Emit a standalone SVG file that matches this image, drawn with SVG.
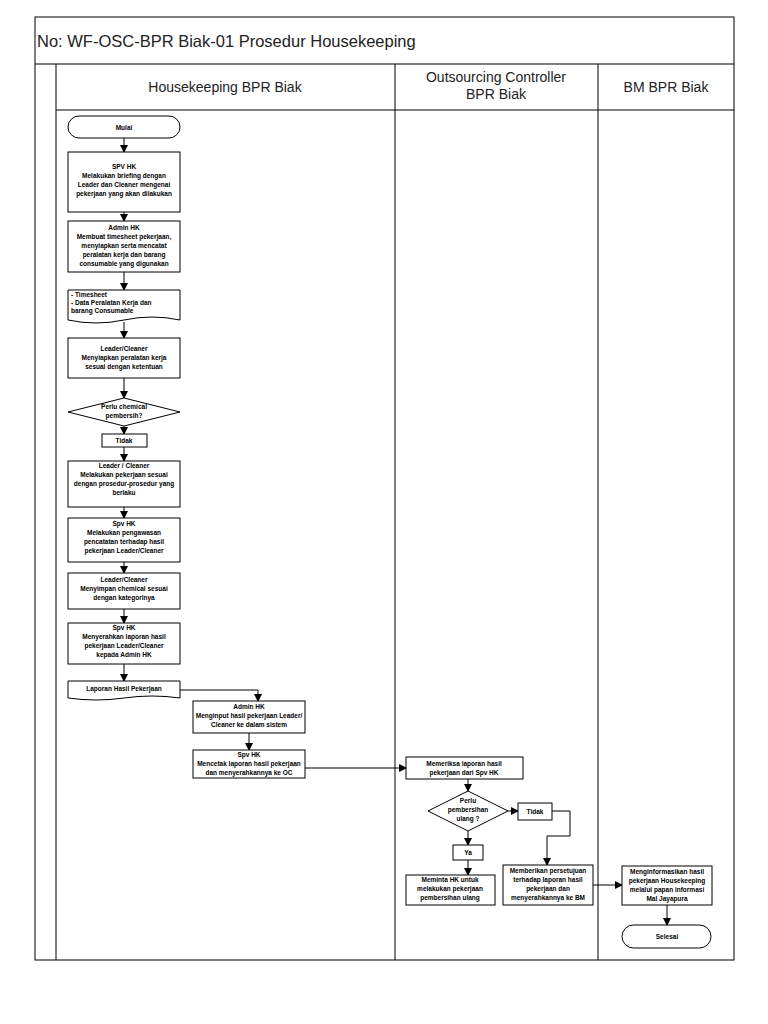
<svg xmlns="http://www.w3.org/2000/svg" width="768" height="1024" viewBox="0 0 768 1024">
<style>
.ln{fill:none;stroke:#000;stroke-width:1}
.bx{fill:#fff;stroke:#000;stroke-width:1}
.t{font-family:"Liberation Sans",Arial,sans-serif;font-size:6.5px;font-weight:bold;text-anchor:middle;fill:#000}
.s{text-anchor:start}
.h{font-family:"Liberation Sans",Arial,sans-serif;font-size:14px;text-anchor:middle;fill:#222}
.c{fill:none;stroke:#000;stroke-width:1;marker-end:url(#a)}
</style>
<defs><marker id="a" markerWidth="8" markerHeight="8" refX="7" refY="4" orient="auto" markerUnits="userSpaceOnUse"><path d="M0,0 L8,4 L0,8 z" fill="#000"/></marker></defs>
<rect width="768" height="1024" fill="#fff"/>
<g id="frame">
<rect x="35" y="17" width="699" height="943" class="ln"/>
<line x1="35" y1="64" x2="734" y2="64" class="ln" stroke-width="1.5"/>
<line x1="56" y1="110" x2="734" y2="110" class="ln"/>
<line x1="56" y1="64" x2="56" y2="960" class="ln"/>
<line x1="395" y1="64" x2="395" y2="960" class="ln"/>
<line x1="598" y1="64" x2="598" y2="960" class="ln"/>
<text x="37" y="47" font-family="Liberation Sans,Arial,sans-serif" font-size="16.5" fill="#222">No: WF-OSC-BPR Biak-01 Prosedur Housekeeping</text>
<text x="225" y="92" class="h">Housekeeping BPR Biak</text>
<text x="496" y="82" class="h">Outsourcing Controller</text>
<text x="496" y="99" class="h">BPR Biak</text>
<text x="666" y="92" class="h">BM BPR Biak</text>
</g>
<g id="connectors">
<line x1="124" y1="138" x2="124" y2="152" class="c"/>
<line x1="124" y1="212" x2="124" y2="221" class="c"/>
<line x1="124" y1="272" x2="124" y2="290" class="c"/>
<line x1="124" y1="322" x2="124" y2="338" class="c"/>
<line x1="124" y1="378" x2="124" y2="398" class="c"/>
<line x1="124" y1="426" x2="124" y2="434" class="c"/>
<line x1="124" y1="447" x2="124" y2="461" class="c"/>
<line x1="124" y1="507" x2="124" y2="518" class="c"/>
<line x1="124" y1="562" x2="124" y2="573" class="c"/>
<line x1="124" y1="609" x2="124" y2="623" class="c"/>
<line x1="124" y1="664" x2="124" y2="681" class="c"/>
<polyline points="180,690 258,690 258,701" class="c"/>
<line x1="249" y1="733" x2="249" y2="750" class="c"/>
<line x1="305" y1="768" x2="406" y2="768" class="c"/>
<line x1="468" y1="779" x2="468" y2="791" class="c"/>
<line x1="508" y1="811" x2="518" y2="811" class="c"/>
<polyline points="552,811 570,811 570,836 547,836 547,865" class="c"/>
<line x1="468" y1="831" x2="468" y2="845" class="c"/>
<line x1="468" y1="860" x2="468" y2="875" class="c"/>
<line x1="593" y1="885" x2="622" y2="885" class="c"/>
<line x1="667" y1="905" x2="667" y2="925" class="c"/>
</g>
<g id="mulai"><rect x="68" y="116" width="112" height="22" rx="11" class="bx"/><text x="124" y="130" class="t">Mulai</text></g>
<g id="n1"><rect x="68" y="152" width="112" height="60" class="bx"/>
<text class="t" x="124" y="169">SPV HK</text><text class="t" x="124" y="178">Melakukan briefing dengan</text><text class="t" x="124" y="187">Leader dan Cleaner mengenai</text><text class="t" x="124" y="196">pekerjaan yang akan dilakukan</text></g>
<g id="n2"><rect x="68" y="221" width="112" height="51" class="bx"/>
<text class="t" x="124" y="230">Admin HK</text><text class="t" x="124" y="239">Membuat timesheet pekerjaan,</text><text class="t" x="124" y="248">menyiapkan serta mencatat</text><text class="t" x="124" y="257">peralatan kerja dan barang</text><text class="t" x="124" y="266">consumable yang digunakan</text></g>
<g id="doc1"><path d="M68,290 H180 V320 Q152,314 124,320 T68,320 Z" class="bx"/>
<text class="t s" x="71" y="297">- Timesheet</text><text class="t s" x="71" y="305">- Data Peralatan Kerja dan</text><text class="t s" x="71" y="313">barang Consumable</text></g>
<g id="n3"><rect x="68" y="338" width="112" height="40" class="bx"/>
<text class="t" x="124" y="351">Leader/Cleaner</text><text class="t" x="124" y="360">Menyiapkan peralatan kerja</text><text class="t" x="124" y="369">sesuai dengan ketentuan</text></g>
<g id="d1"><polygon points="68,412 124,398 180,412 124,426" class="bx"/>
<text class="t" x="124" y="409">Perlu chemical</text><text class="t" x="124" y="418">pembersih?</text></g>
<g id="tidak1"><rect x="102" y="434" width="45" height="13" class="bx"/><text class="t" x="124" y="443">Tidak</text></g>
<g id="n4"><rect x="68" y="461" width="112" height="46" class="bx"/>
<text class="t" x="124" y="468">Leader / Cleaner</text><text class="t" x="124" y="477">Melakukan pekerjaan sesuai</text><text class="t" x="124" y="486">dengan prosedur-prosedur yang</text><text class="t" x="124" y="495">berlaku</text></g>
<g id="n5"><rect x="68" y="518" width="112" height="44" class="bx"/>
<text class="t" x="124" y="526">Spv HK</text><text class="t" x="124" y="535">Melakukan pengawasan</text><text class="t" x="124" y="544">pencatatan terhadap hasil</text><text class="t" x="124" y="553">pekerjaan Leader/Cleaner</text></g>
<g id="n6"><rect x="68" y="573" width="112" height="36" class="bx"/>
<text class="t" x="124" y="582">Leader/Cleaner</text><text class="t" x="124" y="591">Menyimpan chemical sesuai</text><text class="t" x="124" y="600">dengan kategorinya</text></g>
<g id="n7"><rect x="68" y="623" width="112" height="41" class="bx"/>
<text class="t" x="124" y="630">Spv HK</text><text class="t" x="124" y="639">Menyerahkan laporan hasil</text><text class="t" x="124" y="648">pekerjaan Leader/Cleaner</text><text class="t" x="124" y="657">kepada Admin HK</text></g>
<g id="doc2"><path d="M68,681 H180 V698 Q152,694 124,698 T68,698 Z" class="bx"/>
<text class="t" x="124" y="691">Laporan Hasil Pekerjaan</text></g>
<g id="n8"><rect x="193" y="701" width="112" height="32" class="bx"/>
<text class="t" x="249" y="709">Admin HK</text><text class="t" x="249" y="718">Menginput hasil pekerjaan Leader/</text><text class="t" x="249" y="727">Cleaner ke dalam sistem</text></g>
<g id="n9"><rect x="193" y="750" width="112" height="28" class="bx"/>
<text class="t" x="249" y="757">Spv HK</text><text class="t" x="249" y="766">Mencetak laporan hasil pekerjaan</text><text class="t" x="249" y="775">dan menyerahkannya ke OC</text></g>
<g id="oc1"><rect x="406" y="757" width="117" height="22" class="bx"/>
<text class="t" x="464" y="766">Memeriksa laporan hasil</text><text class="t" x="464" y="775">pekerjaan dari Spv HK</text></g>
<g id="d2"><polygon points="428,811 468,791 508,811 468,831" class="bx"/>
<text class="t" x="468" y="803">Perlu</text><text class="t" x="468" y="812">pembersihan</text><text class="t" x="468" y="821">ulang ?</text></g>
<g id="tidak2"><rect x="518" y="803" width="34" height="17" class="bx"/><text class="t" x="535" y="814">Tidak</text></g>
<g id="ya"><rect x="453" y="845" width="30" height="15" class="bx"/><text class="t" x="468" y="855">Ya</text></g>
<g id="oc2"><rect x="406" y="875" width="89" height="30" class="bx"/>
<text class="t" x="450" y="882">Meminta HK untuk</text><text class="t" x="450" y="891">melakukan pekerjaan</text><text class="t" x="450" y="900">pembersihan ulang</text></g>
<g id="oc3"><rect x="503" y="865" width="90" height="40" class="bx"/>
<text class="t" x="548" y="873">Memberikan persetujuan</text><text class="t" x="548" y="882">terhadap laporan hasil</text><text class="t" x="548" y="891">pekerjaan dan</text><text class="t" x="548" y="900">menyerahkannya ke BM</text></g>
<g id="bm1"><rect x="622" y="866" width="90" height="39" class="bx"/>
<text class="t" x="667" y="874">Menginformasikan hasil</text><text class="t" x="667" y="883">pekerjaan Housekeeping</text><text class="t" x="667" y="892">melalui papan informasi</text><text class="t" x="667" y="901">Mal Jayapura</text></g>
<g id="selesai"><rect x="622" y="925" width="89" height="23" rx="11.5" class="bx"/><text class="t" x="667" y="939">Selesai</text></g>
</svg>
